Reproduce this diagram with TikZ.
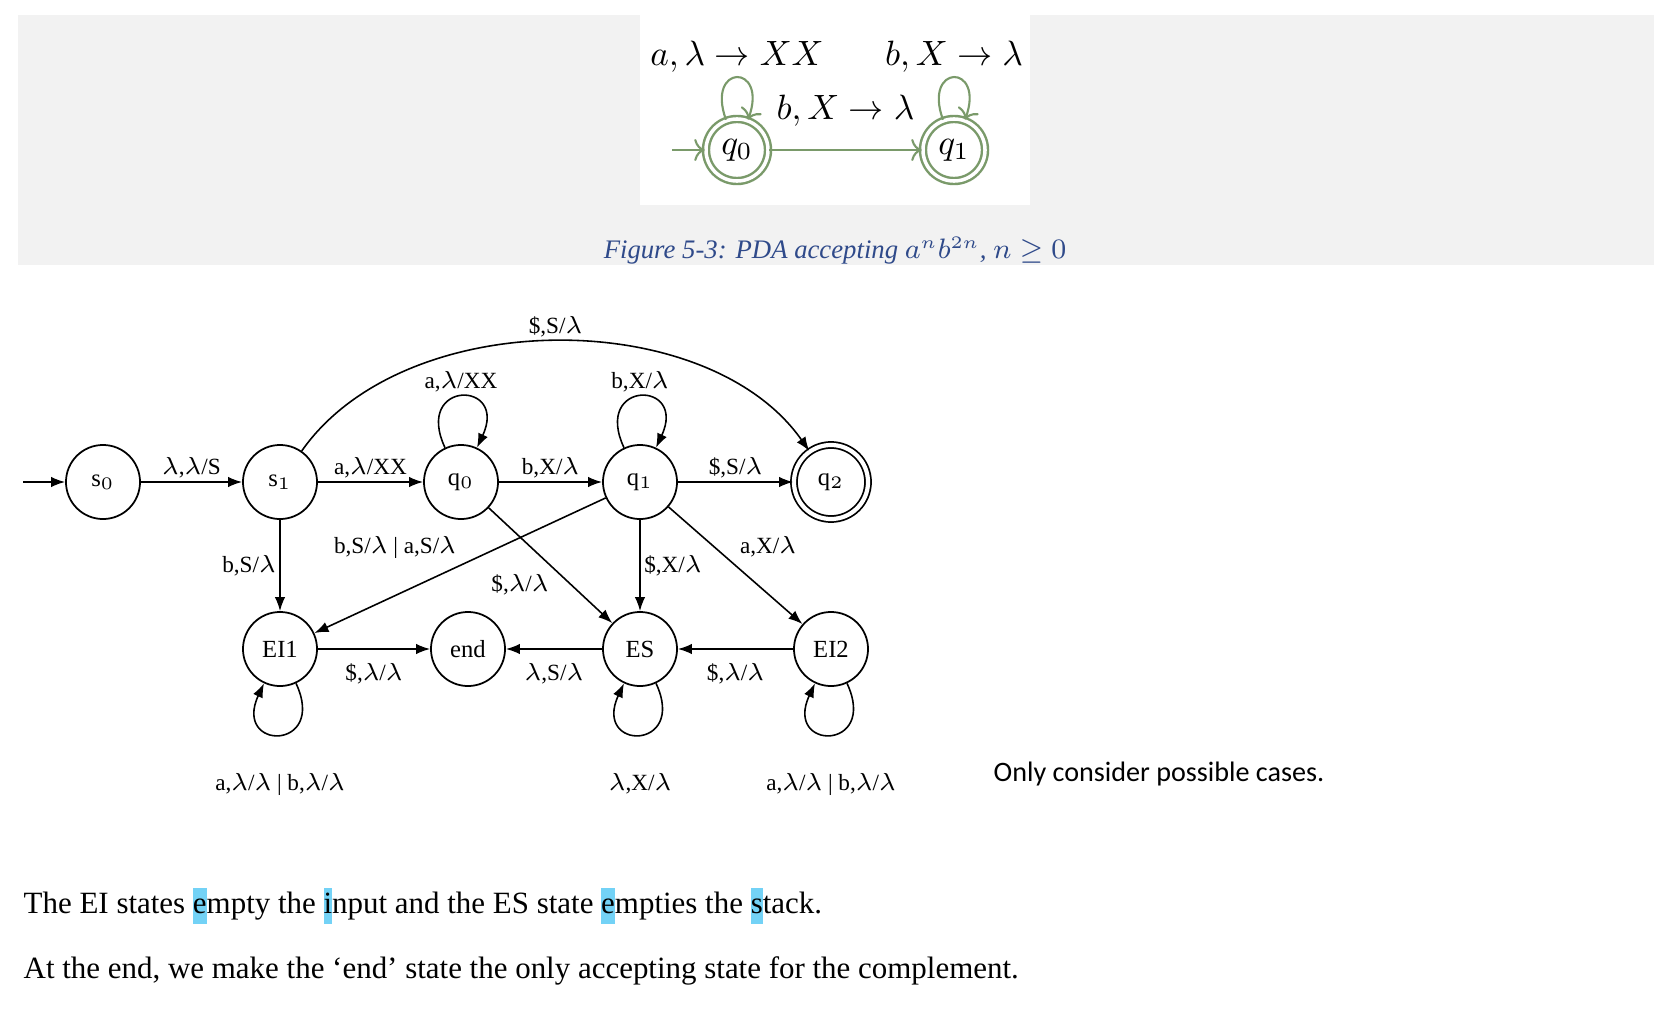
\documentclass[tikz,border=0pt]{standalone}
\usepackage{fontspec}
\usepackage{amsmath,amssymb}
\setmainfont{Liberation Serif}
\newfontfamily\calib{Carlito}
\usetikzlibrary{arrows.meta}
\definecolor{figgreen}{HTML}{7A9A6A}
\definecolor{capblue}{HTML}{2F4A8A}
\definecolor{panel}{HTML}{F2F2F2}
\newcommand{\hl}[1]{{\setlength{\fboxsep}{0pt}\colorbox{cyan!55}{\strut #1}}}
\tikzset{
  st/.style={circle,draw,line width=0.5pt,minimum size=0.74cm,inner sep=0pt,font=\fontsize{7}{8}\selectfont},
  acc/.style={st,double,double distance=1.2pt},
  tr/.style={-{Latex[length=4pt,width=3pt]},line width=0.45pt},
  lab/.style={font=\fontsize{6.6}{8}\selectfont,inner sep=1pt},
  gst/.style={circle,draw=figgreen,double=white,double distance=1pt,line width=0.7pt,minimum size=0.62cm,inner sep=0pt},
  gtr/.style={-{To[length=3pt]},draw=figgreen,line width=0.6pt},
}
\begin{document}
\begin{tikzpicture}[x=0.01cm,y=-0.01cm]
\useasboundingbox (0,0) rectangle (1666,1018);
% top panel
\fill[panel] (18,15) rectangle (1654,265);
\fill[white] (640,15) rectangle (1030,205);
\node[gst] (p0) at (737,150) {$q_0$};
\node[gst] (p1) at (954,150) {$q_1$};
\coordinate (pin) at (672,150);
\draw[gtr] (pin) -- (p0);
\draw[gtr] (p0) -- node[above=3pt,black]{$b, X \rightarrow \lambda$} (p1);
\draw[gtr] (p0) to[out=110,in=70,looseness=7] (p0);
\draw[gtr] (p1) to[out=110,in=70,looseness=7] (p1);
\node at (737,57) {$a, \lambda \rightarrow XX$};
\node at (954,57) {$b, X \rightarrow \lambda$};
\node[text=capblue,font=\fontsize{7.6}{9}\selectfont\itshape] (cap) at (835,251) {Figure 5-3: PDA accepting $a^nb^{2n}$, $n \geq 0$};
% main automaton
\node[st] (s0) at (103,482) {s$_0$};
\node[st] (s1) at (280,482) {s$_1$};
\node[st] (q0) at (461,482) {q$_0$};
\node[st] (q1) at (640,482) {q$_1$};
\node[acc] (q2) at (831,482) {q$_2$};
\node[st] (EI1) at (280,649) {EI1};
\node[st] (end) at (468,649) {end};
\node[st] (ES) at (640,649) {ES};
\node[st] (EI2) at (831,649) {EI2};
\coordinate (start) at (23,482);
\draw[tr] (start) -- (s0);
\draw[tr] (s0) -- node[lab,above]{$\lambda$,$\lambda$/S} (s1);
\draw[tr] (s1) -- node[lab,above]{a,$\lambda$/XX} (q0);
\draw[tr] (q0) -- node[lab,above]{b,X/$\lambda$} (q1);
\draw[tr] (q1) -- node[lab,above]{\$,S/$\lambda$} (q2);
\draw[tr] (s1) to[out=55,in=125,looseness=0.9] node[lab,above]{\$,S/$\lambda$} (q2);
\draw[tr] (q0) to[out=115,in=65,looseness=6] node[lab,above]{a,$\lambda$/XX} (q0);
\draw[tr] (q1) to[out=115,in=65,looseness=6] node[lab,above]{b,X/$\lambda$} (q1);
\draw[tr] (s1) -- node[lab,left]{b,S/$\lambda$} (EI1);
\draw[tr] (q1) -- (EI1);
\node[lab] at (395,547) {b,S/$\lambda$ | a,S/$\lambda$};
\draw[tr] (q0) -- (ES);
\node[lab] at (520,585) {\$,$\lambda$/$\lambda$};
\draw[tr] (q1) -- node[lab,right]{\$,X/$\lambda$} (ES);
\draw[tr] (q1) -- (EI2);
\node[lab] at (768,547) {a,X/$\lambda$};
\draw[tr] (EI1) -- node[lab,below=3pt]{\$,$\lambda$/$\lambda$} (end);
\draw[tr] (ES) -- node[lab,below=3pt]{$\lambda$,S/$\lambda$} (end);
\draw[tr] (EI2) -- node[lab,below=3pt]{\$,$\lambda$/$\lambda$} (ES);
\draw[tr] (EI1) to[out=-65,in=-115,looseness=6] node[lab,below=10pt]{a,$\lambda$/$\lambda$ | b,$\lambda$/$\lambda$} (EI1);
\draw[tr] (ES) to[out=-65,in=-115,looseness=6] node[lab,below=10pt]{$\lambda$,X/$\lambda$} (ES);
\draw[tr] (EI2) to[out=-65,in=-115,looseness=6] node[lab,below=10pt]{a,$\lambda$/$\lambda$ | b,$\lambda$/$\lambda$} (EI2);
% texts
\node[font=\calib\fontsize{8}{10}\selectfont] (note) at (1159,774) {Only consider possible cases.};
\node[anchor=west,inner sep=0pt,font=\fontsize{8.8}{10}\selectfont] (line1) at (23,906) {The EI states \hl{e}mpty the \hl{i}nput and the ES state \hl{e}mpties the \hl{s}tack.};
\node[anchor=west,inner sep=0pt,font=\fontsize{8.8}{10}\selectfont] (line2) at (23,971) {At the end, we make the ‘end’ state the only accepting state for the complement.};
\end{tikzpicture}
\end{document}
